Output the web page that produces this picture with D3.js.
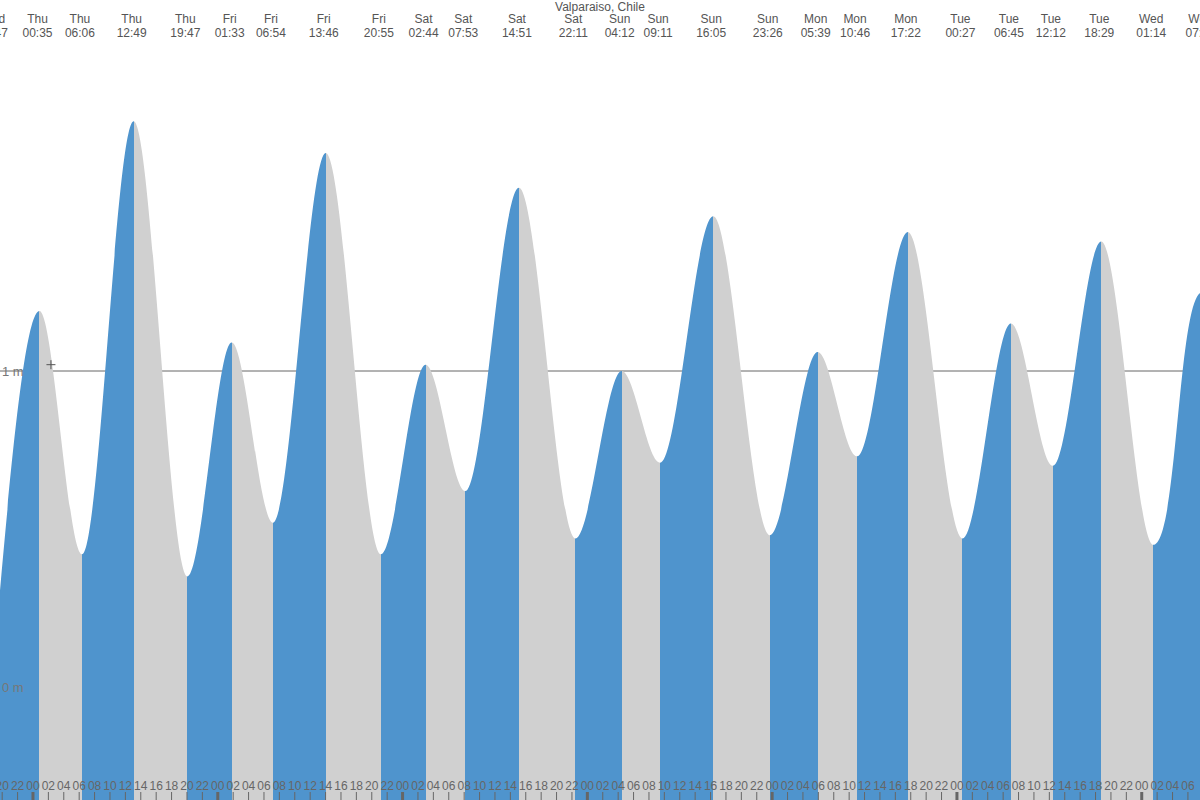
<!DOCTYPE html>
<html>
<head>
<meta charset="utf-8">
<script src="https://cdn.jsdelivr.net/npm/d3@7/dist/d3.min.js"></script>
<style>
  html, body { margin: 0; padding: 0; background: #fff; }
  svg { display: block; font-family: "Liberation Sans", Arial, sans-serif; }
</style>
</head>
<body>
<svg id="chart" width="1200" height="800"></svg>
<script>
// ---- data (local times and heights in metres) ----
const title = "Valparaiso, Chile";
const tideTimes = [
  "2024-01-03T18:47", "2024-01-04T00:35", "2024-01-04T06:06", "2024-01-04T12:49",
  "2024-01-04T19:47", "2024-01-05T01:33", "2024-01-05T06:54", "2024-01-05T13:46",
  "2024-01-05T20:55", "2024-01-06T02:44", "2024-01-06T07:53", "2024-01-06T14:51",
  "2024-01-06T22:11", "2024-01-07T04:12", "2024-01-07T09:11", "2024-01-07T16:05",
  "2024-01-07T23:26", "2024-01-08T05:39", "2024-01-08T10:46", "2024-01-08T17:22",
  "2024-01-09T00:27", "2024-01-09T06:45", "2024-01-09T12:12", "2024-01-09T18:29",
  "2024-01-10T01:14", "2024-01-10T07:38"
];
const tideHeights = [
  0.12, 1.19, 0.42, 1.79,
  0.35, 1.09, 0.52, 1.69,
  0.42, 1.02, 0.62, 1.58,
  0.47, 1.00, 0.71, 1.49,
  0.48, 1.06, 0.73, 1.44,
  0.47, 1.15, 0.70, 1.41,
  0.45, 1.25
];
const levelTicks = [0, 1];
const viewStart = "2024-01-03T19:43";
const viewEnd = "2024-01-10T07:34";
const markerTime = "2024-01-04T02:20";
const markerHeight = 1.02;

// ---- setup ----
const W = 1200, H = 800;
const parse = d3.utcParse("%Y-%m-%dT%H:%M");
const data = tideTimes.map((t, i) => ({ t: parse(t), h: tideHeights[i] }));

const x = d3.scaleUtc().domain([parse(viewStart), parse(viewEnd)]).range([0, W]);
const y = d3.scaleLinear().domain([0, 1]).range([687, 371]);

const svg = d3.select("#chart");
const blue = "#4f94cd", grey = "#d0d0d0", textCol = "#666";

// reference line at 1 m (behind the area)
svg.append("line")
  .attr("x1", 0).attr("x2", W)
  .attr("y1", y(1)).attr("y2", y(1))
  .attr("stroke", "#666").attr("stroke-width", 1);

// tide area shapes used as clip paths
const areaMono = d3.area().x(d => x(d.t)).y0(H).y1(d => y(d.h)).curve(d3.curveMonotoneX);
const areaBump = d3.area().x(d => x(d.t)).y0(H).y1(d => y(d.h)).curve(d3.curveBumpX);

const defs = svg.append("defs");
defs.append("clipPath").attr("id", "clipMono").append("path").attr("d", areaMono(data));
defs.append("clipPath").attr("id", "clipBump").append("path").attr("d", areaBump(data));

// bands between consecutive extremes: blue while rising, grey while falling
const segs = d3.pairs(data);
const bandG = svg.append("g").attr("transform", "translate(2,0)");
bandG.selectAll("rect").data(segs).join("rect")
  .attr("clip-path", (d, i) => (i === segs.length - 1) ? "url(#clipBump)" : "url(#clipMono)")
  .attr("x", d => x(d[0].t))
  .attr("width", d => x(d[1].t) - x(d[0].t))
  .attr("y", 0).attr("height", H)
  .attr("fill", d => d[1].h > d[0].h ? blue : grey)
  .attr("shape-rendering", "crispEdges");

// level labels
svg.append("g").selectAll("text").data(levelTicks).join("text")
  .attr("x", 2).attr("y", d => y(d) + 5)
  .attr("fill", "#777").attr("font-size", 13)
  .text(d => d + " m");

// marker cross
const mx = x(parse(markerTime)), my = y(markerHeight);
svg.append("path")
  .attr("d", `M${mx - 4.5},${my}H${mx + 4.5}M${mx},${my - 4.5}V${my + 4.5}`)
  .attr("stroke", "#555").attr("stroke-width", 1).attr("fill", "none");

// bottom hour axis
const hours = d3.utcHour.every(2).range(x.domain()[0], x.domain()[1]);
const fmtH = d3.utcFormat("%H");
const axisG = svg.append("g");
axisG.selectAll("text").data(hours).join("text")
  .attr("x", d => x(d)).attr("y", 790)
  .attr("text-anchor", "middle").attr("fill", textCol).attr("font-size", 12)
  .text(d => fmtH(d));
axisG.selectAll("line").data(hours).join("line")
  .attr("x1", d => x(d)).attr("x2", d => x(d))
  .attr("y1", 792).attr("y2", H)
  .attr("stroke", "#666")
  .attr("stroke-width", d => d.getUTCHours() === 0 ? 3 : 1);

// top labels for extremes
const fmtDay = d3.utcFormat("%a"), fmtTime = d3.utcFormat("%H:%M");
const topG = svg.append("g").attr("text-anchor", "middle").attr("fill", "#555").attr("font-size", 12);
topG.selectAll("text.day").data(data).join("text").attr("class", "day")
  .attr("x", d => x(d.t)).attr("y", 23).text(d => fmtDay(d.t));
topG.selectAll("text.time").data(data).join("text").attr("class", "time")
  .attr("x", d => x(d.t)).attr("y", 37).text(d => fmtTime(d.t));

svg.append("text").attr("x", W / 2).attr("y", 11)
  .attr("text-anchor", "middle").attr("fill", "#555").attr("font-size", 12)
  .text(title);
</script>
</body>
</html>
